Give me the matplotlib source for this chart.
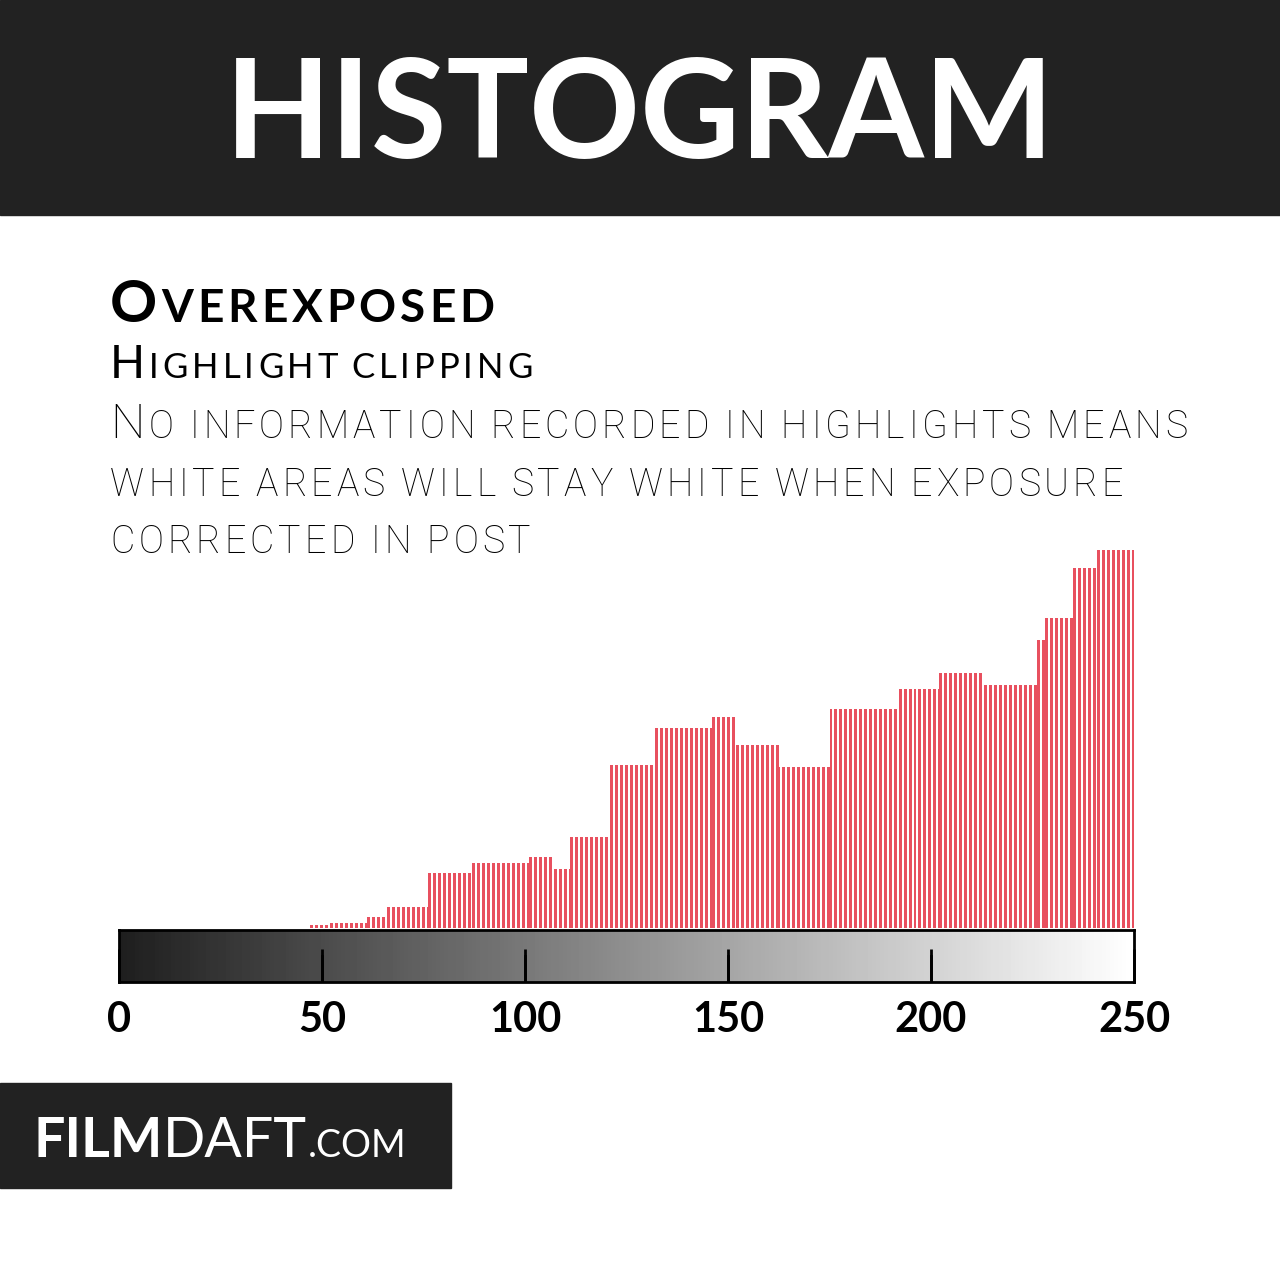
import matplotlib
matplotlib.use("Agg")
import matplotlib.pyplot as plt
import numpy as np

# Histogram segments: (start level, end level, height)
seg_start = [47, 52, 61, 66, 76, 87, 101, 106, 111, 121, 132, 146, 152, 162, 175, 192, 202, 213, 226, 228, 235, 241]
seg_end   = [52, 61, 66, 76, 87, 101, 106, 111, 121, 132, 146, 152, 162, 175, 192, 202, 213, 226, 228, 235, 241, 250]
seg_h     = [3, 5, 11, 21, 55, 65, 71, 59, 91, 163, 200, 211, 183, 161, 219, 239, 255, 243, 288, 310, 360, 378]
ticks = [0, 50, 100, 150, 200, 250]
bar_pitch = 1.23

W = H = 1280
fig = plt.figure(figsize=(12.8, 12.8), dpi=100)
fig.patch.set_facecolor("white")
DARK = "#222222"
RED = "#e8505f"

def fx(px): return px / W
def fy(py): return 1 - py / H

fig.patches.append(plt.Rectangle((0, fy(215)), 1, 215 / H, transform=fig.transFigure, color=DARK, zorder=0))
fig.text(0.5, fy(118), "HISTOGRAM", color="white", fontsize=99, fontweight="bold",
         family="Lato", ha="center", va="center")

renderer = fig.canvas.get_renderer()

def smallcaps(x_px, y_px, s, big, small, weight, spacing_px, space_px, family="Lato"):
    x = x_px
    for ch in s:
        if ch == " ":
            x += space_px
            continue
        size = big if ch.isupper() else small
        t = fig.text(fx(x), fy(y_px), ch.upper(), fontsize=size, fontweight=weight, family=family,
                     color="black", va="baseline", ha="left")
        x += t.get_window_extent(renderer).width + spacing_px

smallcaps(110, 322, "Overexposed", 42, 33, "bold", 4.0, 10)
smallcaps(110, 378, "Highlight clipping", 33, 25, "normal", 4.0, 9)
smallcaps(110, 438, "No information recorded in highlights means", 35, 27, "light", 4.0, 12, "Roboto")
smallcaps(110, 496, "white areas will stay white when exposure", 27, 27, "light", 4.0, 12, "Roboto")
smallcaps(110, 553, "corrected in post", 27, 27, "light", 4.0, 12, "Roboto")

ax = fig.add_axes([fx(119), fy(928), 1015 / W, 378 / H])
ax.set_xlim(0, 250)
ax.set_ylim(0, 378)
ax.axis("off")
xs, hs = [], []
for s, e, h in zip(seg_start, seg_end, seg_h):
    for x in np.arange(s, e - 1e-6, bar_pitch):
        xs.append(x); hs.append(h)
ax.bar(xs, hs, width=bar_pitch * 0.6, align="edge", color=RED, linewidth=0)

gax = fig.add_axes([fx(119), fy(982), 1015 / W, 52 / H])
grad = np.linspace(0.12, 1.0, 256)[None, :]
gax.imshow(grad, cmap="gray", aspect="auto", extent=(0, 250, 0, 1), vmin=0, vmax=1)
gax.set_xlim(0, 250); gax.set_ylim(0, 1)
for sp in gax.spines.values():
    sp.set_linewidth(2); sp.set_color("black")
gax.set_yticks([])
gax.set_xticks(ticks)
gax.set_xticklabels([str(t) for t in ticks], fontsize=30, fontweight="bold", family="Lato")
gax.tick_params(axis="x", direction="in", length=24, width=2, pad=14)
for t in ticks[1:-1]:
    gax.plot([t, t], [0, 0.5], color="black", lw=2)

fig.patches.append(plt.Rectangle((0, fy(1188)), fx(451), 105 / H, transform=fig.transFigure, color=DARK, zorder=0))
t1 = fig.text(fx(33), fy(1157), "FILM", color="white", fontsize=40, fontweight="bold", family="Lato", va="baseline")
w1 = t1.get_window_extent(renderer).width
t2 = fig.text(fx(33 + w1), fy(1157), "DAFT", color="white", fontsize=40, fontweight="normal", family="Lato", va="baseline")
w2 = t2.get_window_extent(renderer).width
fig.text(fx(33 + w1 + w2 + 2), fy(1157), ".COM", color="white", fontsize=27, fontweight="normal", family="Lato", va="baseline")

fig.savefig("out.png", dpi=100, facecolor="white")
